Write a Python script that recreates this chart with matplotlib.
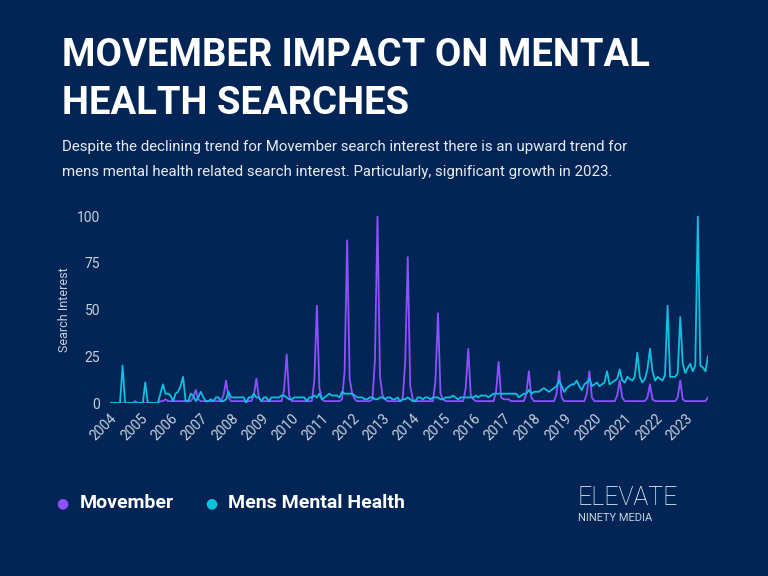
import matplotlib
matplotlib.use("Agg")
import matplotlib.pyplot as plt
import matplotlib.dates as mdates
import pandas as pd

# monthly search interest, Jan 2004 - Oct 2023
movember = [
    0, 0, 0, 0, 0, 0, 0, 0, 0, 0, 1, 0,          # 2004
    0, 0, 0, 0, 0, 0, 0, 0, 1, 1, 2, 1,          # 2005
    1, 1, 1, 1, 1, 1, 1, 1, 1, 3, 7, 2,          # 2006
    1, 1, 1, 1, 1, 1, 1, 1, 1, 4, 12, 3,         # 2007
    1, 1, 1, 1, 1, 1, 1, 1, 1, 4, 13, 3,         # 2008
    1, 1, 1, 1, 1, 1, 1, 1, 1, 7, 26, 4,         # 2009
    1, 1, 1, 1, 1, 1, 1, 1, 1, 12, 52, 8,        # 2010
    2, 1, 1, 1, 1, 1, 1, 1, 2, 17, 87, 13,       # 2011
    5, 2, 1, 1, 1, 1, 1, 1, 2, 23, 100, 14,      # 2012
    4, 2, 1, 1, 1, 1, 1, 1, 2, 22, 78, 9,        # 2013
    2, 1, 1, 1, 1, 1, 1, 1, 1, 12, 48, 5,        # 2014
    2, 1, 1, 1, 1, 1, 1, 1, 1, 8, 29, 4,         # 2015
    2, 1, 1, 1, 1, 1, 1, 1, 1, 6, 22, 3,         # 2016
    2, 2, 2, 1, 1, 1, 1, 1, 1, 5, 17, 3,         # 2017
    1, 1, 1, 1, 1, 1, 1, 1, 1, 5, 17, 3,         # 2018
    1, 1, 1, 1, 1, 1, 1, 1, 1, 5, 17, 3,         # 2019
    1, 1, 1, 1, 1, 1, 1, 1, 1, 4, 12, 3,         # 2020
    1, 1, 1, 1, 1, 1, 1, 1, 1, 3, 10, 2,         # 2021
    1, 1, 1, 1, 1, 1, 1, 1, 1, 3, 12, 2,         # 2022
    1, 1, 1, 1, 1, 1, 1, 1, 1, 3,                # 2023
]

mental_health = [
    0, 0, 0, 0, 0, 20, 0, 0, 0, 0, 0, 0,         # 2004
    0, 0, 11, 0, 0, 0, 0, 0, 5, 10, 5, 5,        # 2005
    4, 1, 5, 6, 9, 14, 1, 1, 5, 4, 1, 3,         # 2006
    6, 3, 1, 1, 2, 1, 3, 3, 1, 1, 2, 6,          # 2007
    3, 3, 3, 3, 3, 3, 0, 3, 3, 5, 3, 3,          # 2008
    1, 3, 3, 1, 3, 3, 3, 3, 4, 4, 3, 2,          # 2009
    2, 3, 3, 3, 3, 3, 1, 3, 3, 4, 3, 5,          # 2010
    2, 3, 4, 5, 4, 4, 4, 3, 6, 5, 5, 5,          # 2011
    5, 4, 3, 3, 3, 2, 2, 3, 3, 2, 2, 3,          # 2012
    3, 2, 3, 3, 2, 2, 3, 1, 2, 2, 3, 2,          # 2013
    1, 1, 3, 3, 2, 3, 3, 2, 3, 3, 3, 2,          # 2014
    2, 3, 3, 3, 4, 3, 2, 3, 3, 3, 3, 3,          # 2015
    3, 4, 3, 4, 4, 4, 3, 4, 5, 5, 5, 5,          # 2016
    5, 5, 5, 5, 5, 5, 3, 4, 5, 5, 7, 5,          # 2017
    6, 6, 6, 7, 8, 7, 6, 7, 8, 9, 12, 9,         # 2018
    6, 8, 9, 10, 10, 12, 9, 7, 10, 11, 13, 9,    # 2019
    10, 11, 9, 10, 11, 17, 10, 11, 12, 13, 18, 12,   # 2020
    11, 14, 13, 12, 14, 27, 14, 11, 13, 18, 29, 17,  # 2021
    12, 14, 13, 12, 15, 52, 14, 14, 14, 16, 46, 21,  # 2022
    16, 19, 21, 17, 20, 100, 20, 19, 17, 25,         # 2023
]

yticks = [0, 25, 50, 75, 100]

bg = "#022556"
purple = "#8c52ff"
cyan = "#0cc0df"
light = "#c9d0dc"

plt.rcParams["font.family"] = ["Roboto", "DejaVu Sans"]

months = pd.date_range("2004-01-01", periods=len(movember), freq="MS")

fig = plt.figure(figsize=(7.68, 5.76), dpi=100, facecolor=bg)
ax = fig.add_axes([0.1432, 0.3003, 0.7786, 0.3247])
ax.set_facecolor(bg)

ax.plot(months, movember, color=purple, lw=1.3)
ax.plot(months, mental_health, color=cyan, lw=1.3)

ax.set_xlim(months[0], months[-1])
ax.set_ylim(0, 100)
ax.set_yticks(yticks)
ax.xaxis.set_major_locator(mdates.YearLocator())
ax.xaxis.set_major_formatter(mdates.DateFormatter("%Y"))
ax.tick_params(axis="both", length=0, colors=light, labelsize=10)
ax.tick_params(axis="y", pad=7)
ax.tick_params(axis="x", pad=6)
plt.setp(ax.get_xticklabels(), rotation=45, ha="right", rotation_mode="anchor")
for s in ax.spines.values():
    s.set_visible(False)
ax.set_ylabel("Search Interest", color=light, fontsize=9, labelpad=4)

# header
fig.text(62 / 768, 1 - 56 / 576, "MOVEMBER IMPACT ON MENTAL", color="white",
         fontsize=27.5, fontweight="bold", va="center", ha="left")
fig.text(62 / 768, 1 - 104 / 576, "HEALTH SEARCHES", color="white",
         fontsize=27.5, fontweight="bold", va="center", ha="left")
fig.text(62 / 768, 1 - 147 / 576,
         "Despite the declining trend for Movember search interest there is an upward trend for",
         color="#e8ebf1", fontsize=10.8, va="center", ha="left")
fig.text(62 / 768, 1 - 172 / 576,
         "mens mental health related search interest. Particularly, significant growth in 2023.",
         color="#e8ebf1", fontsize=10.8, va="center", ha="left")

# legend
fig.text(62 / 768, 1 - 503 / 576, "\u25cf", color=purple, fontsize=10,
         va="center", ha="center", family="DejaVu Sans")
fig.text(80 / 768, 1 - 503 / 576, "Movember", color="white", fontsize=14,
         fontweight="bold", va="center", ha="left")
fig.text(211 / 768, 1 - 503 / 576, "\u25cf", color=cyan, fontsize=10,
         va="center", ha="center", family="DejaVu Sans")
fig.text(228 / 768, 1 - 503 / 576, "Mens Mental Health", color="white", fontsize=14,
         fontweight="bold", va="center", ha="left")

# logo
fig.text(577 / 768, 1 - 498 / 576, "ELEVATE", color="white", fontsize=18,
         fontweight="light", va="center", ha="left")
fig.text(578 / 768, 1 - 518 / 576, "NINETY MEDIA", color="#c9d0dc", fontsize=8,
         va="center", ha="left")

fig.savefig("out.png", dpi=100, facecolor=bg)
